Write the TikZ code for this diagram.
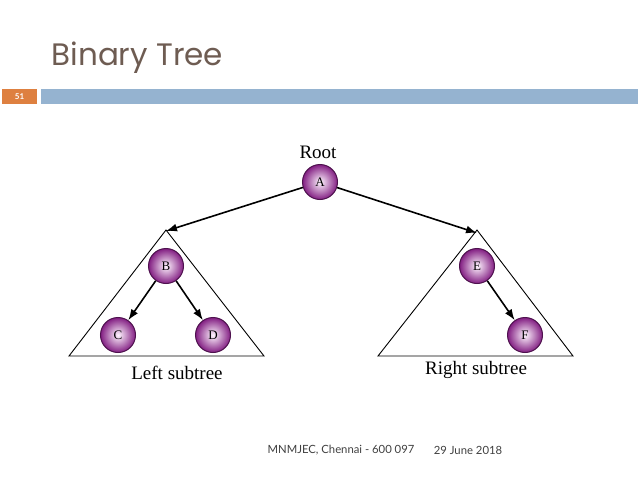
\documentclass[tikz,border=0pt]{standalone}
\usepackage{fontspec}
\setmainfont{Liberation Serif}
\newfontfamily\hdr{Poppins}
\newfontfamily\lato{Lato}
\usetikzlibrary{arrows.meta}
\definecolor{ttl}{RGB}{110,92,82}
\definecolor{orng}{RGB}{222,128,64}
\definecolor{barb}{RGB}{149,179,208}
\definecolor{purp}{RGB}{130,30,130}
\definecolor{purpin}{RGB}{255,245,255}
\begin{document}
\begin{tikzpicture}[x=1pt,y=-1pt,
  tn/.style={circle,minimum size=35pt,inner sep=0pt,draw=purp!60!black,line width=1pt,
    inner color=purpin,outer color=purp,font=\fontsize{13}{15}\selectfont},
  edge/.style={-{Latex[length=11pt,width=8pt]},line width=1.6pt},
  tri/.style={draw,line width=0.9pt}]
\useasboundingbox[fill=white] (0,0) rectangle (638,479);
\node[anchor=base west,font=\hdr\fontsize{31}{34}\selectfont,text=ttl] (title) at (48,65) {Binary Tree};
\fill[orng] (2,89) rectangle (37,104);
\node[font=\lato\bfseries\fontsize{8}{9}\selectfont,text=white] (num) at (19.5,96.5) {51};
\fill[barb] (41,89) rectangle (638,104);
\draw[tri] (69,356) -- (264,356) -- (166,230) -- cycle;
\draw[tri] (378,356) -- (573,356) -- (477,230) -- cycle;
\coordinate (lt) at (166,231);
\coordinate (rt) at (477,233);
\node[tn] (A) at (320,182) {A};
\node[tn] (B) at (166,266) {B};
\node[tn] (C) at (118,335) {C};
\node[tn] (D) at (213,335) {D};
\node[tn] (E) at (477,266) {E};
\node[tn] (F) at (525,335) {F};
\draw[edge] (A) -- (lt);
\draw[edge] (A) -- (rt);
\draw[edge] (B) -- (C);
\draw[edge] (B) -- (D);
\draw[edge] (E) -- (F);
\node[font=\fontsize{19}{21}\selectfont] (root) at (318,152) {Root};
\node[font=\fontsize{19}{21}\selectfont] (ls) at (177,373) {Left subtree};
\node[font=\fontsize{19}{21}\selectfont] (rs) at (476,370) {Right subtree};
\node[font=\lato\fontsize{11.3}{13}\selectfont,text=black!75] (f1) at (341,450) {MNMJEC, Chennai - 600 097};
\node[font=\lato\fontsize{11.3}{13}\selectfont,text=black!75] (f2) at (468,450) {29 June 2018};
\end{tikzpicture}
\end{document}
